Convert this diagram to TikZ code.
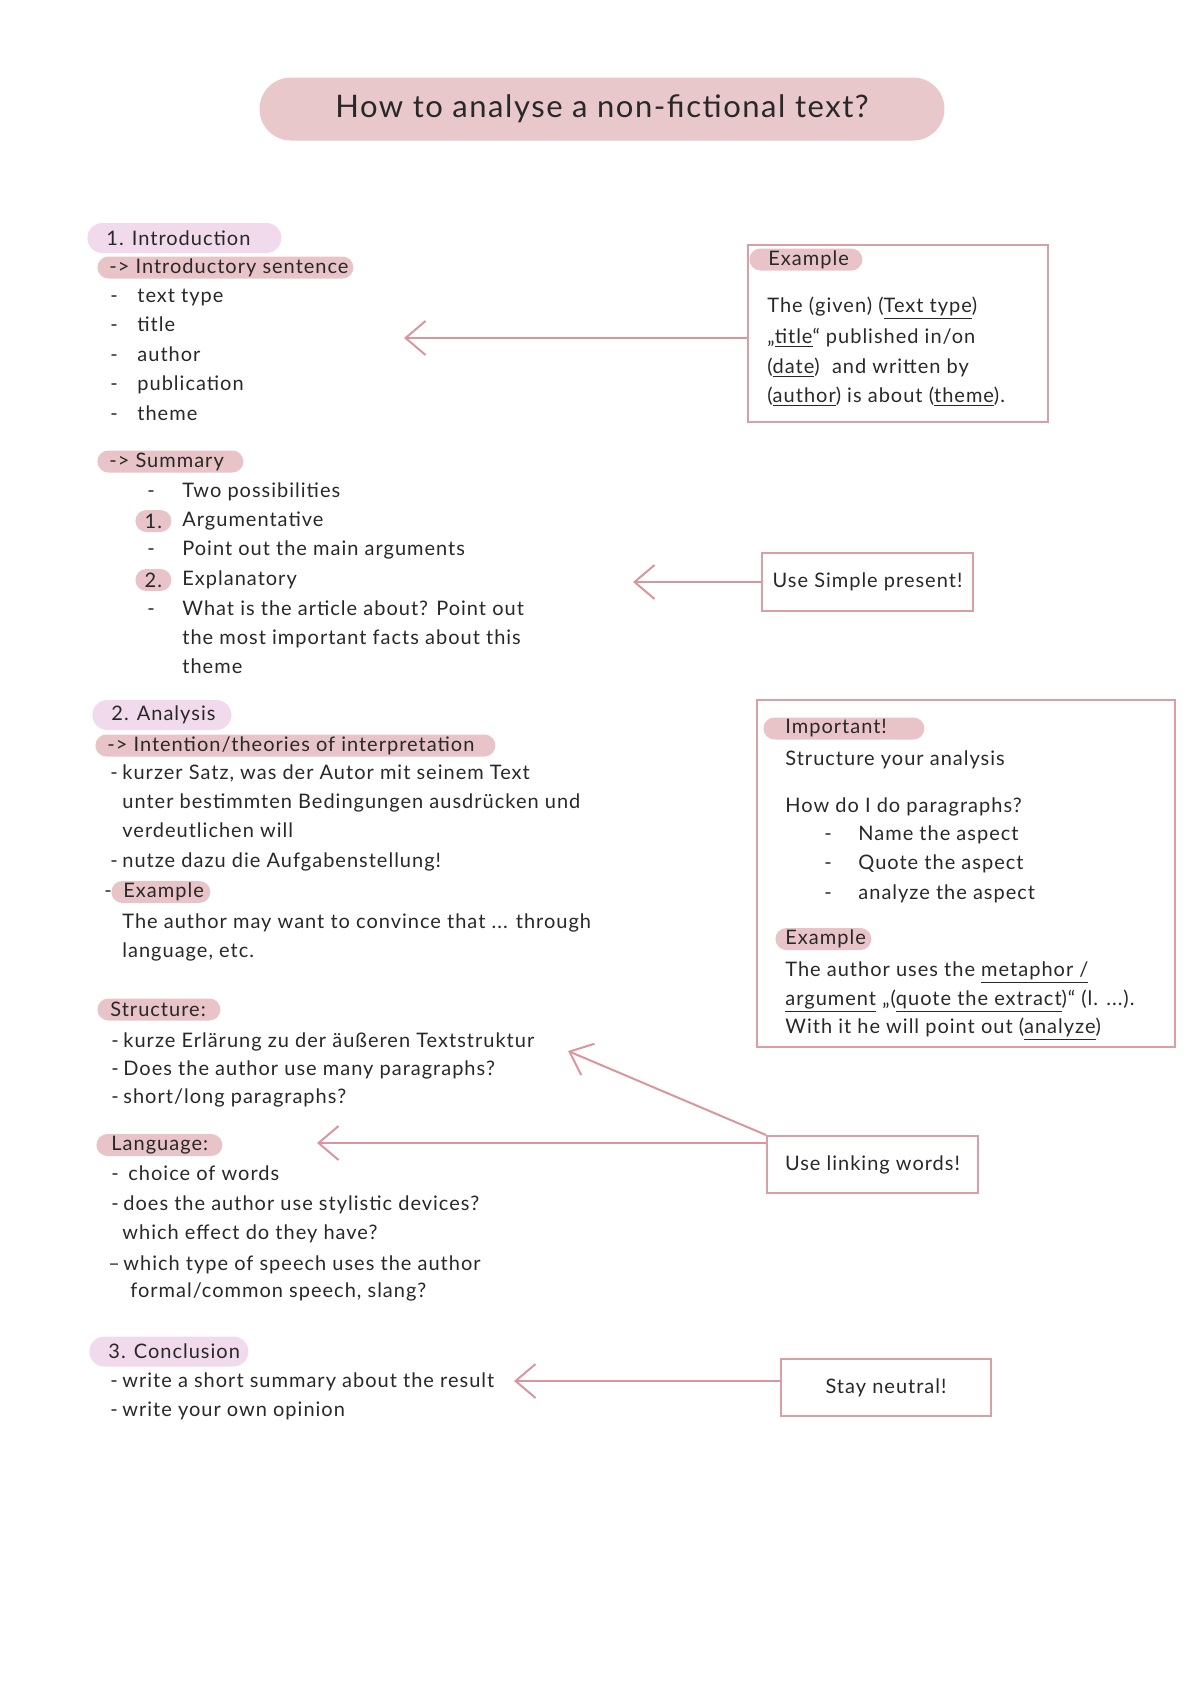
\documentclass[tikz,border=0pt]{standalone}
\usepackage{fontspec}
\setmainfont{Lato}[LetterSpace=5.0]
\usetikzlibrary{arrows.meta}
\definecolor{titlepink}{HTML}{E9C8CC}
\definecolor{headviolet}{HTML}{F1DAEC}
\definecolor{subpink}{HTML}{E8C4C8}
\definecolor{boxline}{HTML}{D6A0A6}
\definecolor{arrowpink}{HTML}{D9969E}
\definecolor{ink}{HTML}{282828}
\newcommand{\pillbox}[2]{\makebox[#1][l]{#2}}
\newcommand{\bodysize}{\fontsize{10}{12}\selectfont}

\tikzset{
  txt/.style={anchor=mid west, inner sep=0pt, text=ink, font=\bodysize},
  headpill/.style={anchor=west, fill=headviolet, rounded corners=7.5pt, minimum height=15pt,
    inner ysep=0pt, inner xsep=9.5pt, text=ink, font=\bodysize},
  subpill/.style={anchor=west, fill=subpink, rounded corners=5.5pt, minimum height=11pt,
    inner ysep=0pt, inner xsep=6pt, text=ink, font=\bodysize},
  notebox/.style={draw=boxline, line width=1pt, text=ink, font=\bodysize},
  arr/.style={draw=arrowpink, line width=1pt, -{Straight Barb[length=10pt,width=17pt]}}
}

\begin{document}
\begin{tikzpicture}[x=0.5pt,y=-0.5pt]
  \useasboundingbox (0,0) rectangle (1200,1697);
  % title
  \node[fill=titlepink, rounded corners=15.75pt, minimum width=342.5pt, minimum height=31.5pt,
    text=ink, font=\fontsize{15.5}{19}\selectfont] (title) at (602,109) {How to analyse a non-fictional text?};

  % 1. Introduction
  \node[headpill] (intro) at (87,238) {\pillbox{78pt}{1. Introduction}};
  \node[subpill] (introsent) at (97,267.5) {\pillbox{116pt}{-> Introductory sentence}};
  \foreach \t [count=\i] in {text type, title, author, publication, theme} {
    \node[txt] (introdash\i) at (110,267.5+29.5*\i) {-};
    \node[txt] (introitem\i) at (137,267.5+29.5*\i) {\t};
  }
  \node[notebox, minimum width=150pt, minimum height=88.5pt] (exbox) at (898,333.5) {};
  \node[subpill, inner xsep=9.5pt] (expill) at (749,259.5) {\pillbox{37.5pt}{Example}};
  \node[txt] (ex1) at (767,307) {The (given) (\underline{Text type})};
  \node[txt] (ex2) at (767,338) {„\underline{title}“ published in/on};
  \node[txt] (ex3) at (767,368) {(\underline{date})\ \ and written by};
  \node[txt] (ex4) at (767,397) {(\underline{author}) is about (\underline{theme}).};
  \coordinate (introtip) at (404,338);
  \draw[arr] (exbox.west |- introtip) -- (introtip);

  % summary
  \node[subpill] (summ) at (97,461.5) {\pillbox{61pt}{-> Summary}};
  \node[txt] (sumdash1) at (147,492) {-};
  \node[txt] (sum1) at (182,492) {Two possibilities};
  \node[subpill, minimum width=18pt, inner xsep=0pt] (numone) at (135,521) {1.};
  \node[txt] (sum2) at (182,521) {Argumentative};
  \node[txt] (sumdash3) at (147,550) {-};
  \node[txt] (sum3) at (182,550) {Point out the main arguments};
  \node[subpill, minimum width=18pt, inner xsep=0pt] (numtwo) at (135,580) {2.};
  \node[txt] (sum4) at (182,580) {Explanatory};
  \node[txt] (sumdash5) at (147,610) {-};
  \node[txt] (sum5) at (182,610) {What is the article about? Point out};
  \node[txt] (sum6) at (182,639) {the most important facts about this};
  \node[txt] (sum7) at (182,668) {theme};
  \node[notebox, minimum width=105.5pt, minimum height=29pt] (presbox) at (867.5,582) {Use Simple present!};
  \coordinate (sumtip) at (633,582);
  \draw[arr] (presbox.west) -- (sumtip);

  % 2. Analysis
  \node[headpill] (anal) at (92,715) {\pillbox{50.5pt}{2. Analysis}};
  \node[subpill] (intent) at (95,745.5) {\pillbox{188pt}{-> Intention/theories of interpretation}};
  \node[txt] (anadash1) at (110,774) {-};
  \node[txt] (ana1) at (122,774) {kurzer Satz, was der Autor mit seinem Text};
  \node[txt] (ana2) at (122,803) {unter bestimmten Bedingungen ausdrücken und};
  \node[txt] (ana3) at (122,832) {verdeutlichen will};
  \node[txt] (anadash4) at (110,862) {-};
  \node[txt] (ana4) at (122,862) {nutze dazu die Aufgabenstellung!};
  \node[txt] (anadash5) at (104,892) {-};
  \node[subpill] (anapill) at (111,892) {\pillbox{37.5pt}{Example}};
  \node[txt] (ana6) at (122,923) {The author may want to convince that ... through};
  \node[txt] (ana7) at (122,952) {language, etc.};

  % important box
  \node[notebox, minimum width=209pt, minimum height=173.5pt] (impbox) at (966,873.5) {};
  \node[subpill, inner xsep=11pt] (imppill) at (763,728.5) {\pillbox{58.5pt}{Important!}};
  \node[txt] (imp1) at (785,760) {Structure your analysis};
  \node[txt] (imp2) at (785,807) {How do I do paragraphs?};
  \foreach \t/\y [count=\i] in {Name the aspect/835, Quote the aspect/864, analyze the aspect/894} {
    \node[txt] (impdash\i) at (824,\y) {-};
    \node[txt] (impitem\i) at (858,\y) {\t};
  }
  \node[subpill, inner xsep=5pt] (imppill2) at (775,939) {\pillbox{38pt}{Example}};
  \node[txt] (imp3) at (785,971) {The author uses the \underline{metaphor /}};
  \node[txt] (imp4) at (785,1000) {\underline{argument} „(\underline{quote the extract})“ (l. ...).};
  \node[txt] (imp5) at (785,1028) {With it he will point out (\underline{analyze})};

  % structure and language
  \node[subpill, inner xsep=6.5pt] (struct) at (97,1009.5) {\pillbox{48.5pt}{Structure:}};
  \foreach \t/\y [count=\i] in {kurze Erlärung zu der äußeren Textstruktur/1042,
      Does the author use many paragraphs?/1070, {short/long paragraphs?}/1098} {
    \node[txt] (strdash\i) at (111,\y) {-};
    \node[txt] (stritem\i) at (123,\y) {\t};
  }
  \node[subpill, inner xsep=7.5pt] (lang) at (96,1145) {\pillbox{48pt}{Language:}};
  \node[txt] (langdash1) at (111,1175) {-};
  \node[txt] (lang1) at (128,1175) {choice of words};
  \node[txt] (langdash2) at (111,1205) {-};
  \node[txt] (lang2) at (123,1205) {does the author use stylistic devices?};
  \node[txt] (lang3) at (122,1234) {which effect do they have?};
  \node[txt] (langdash4) at (108,1265) {–};
  \node[txt] (lang4) at (123,1265) {which type of speech uses the author};
  \node[txt] (lang5) at (130,1292) {formal/common speech, slang?};
  \node[notebox, minimum width=105.5pt, minimum height=28.5pt] (linkbox) at (872.5,1164.5) {Use linking words!};
  \coordinate (structtip) at (568,1051);
  \coordinate (langtip) at (317,1143);
  \draw[arr] (linkbox.north west) -- (structtip);
  \draw[arr] (linkbox.west |- langtip) -- (langtip);

  % 3. Conclusion
  \node[headpill] (concl) at (89,1351.5) {\pillbox{60.5pt}{3. Conclusion}};
  \node[txt] (condash1) at (110,1382) {-};
  \node[txt] (con1) at (122,1382) {write a short summary about the result};
  \node[txt] (condash2) at (110,1411) {-};
  \node[txt] (con2) at (122,1411) {write your own opinion};
  \node[notebox, minimum width=105pt, minimum height=28.5pt] (staybox) at (886,1387.5) {Stay neutral!};
  \coordinate (contip) at (514,1381);
  \draw[arr] (staybox.west |- contip) -- (contip);
\end{tikzpicture}
\end{document}
